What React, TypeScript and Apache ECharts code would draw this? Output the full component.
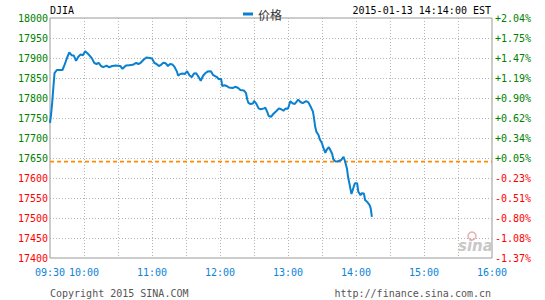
import React, { useEffect, useRef } from "react";
import * as echarts from "echarts";

// minutes after 09:30 open
const minutes = [
  0, 1, 2, 3, 4, 6, 9, 11, 13, 15, 17, 19, 21, 23, 25, 27, 29, 31, 33, 35, 37, 39, 41, 43, 45, 47, 50, 52, 55, 58,
  62, 64, 67, 70, 73, 76, 78, 80, 83, 85, 88, 90, 92, 94, 96, 98, 100, 102, 104, 106, 108, 110, 112, 113, 115, 117,
  119, 121, 123, 125, 127, 129, 131, 133, 135, 137, 139, 142, 144, 147, 149, 151, 152, 154, 156, 158, 161, 164, 166,
  168, 171, 173, 174, 175, 177, 179, 180, 182, 184, 186, 189, 190, 192, 193, 195, 197, 200, 202, 204, 206, 208, 210,
  212, 214, 216, 219, 221, 223, 226, 228, 230, 232, 233, 234, 235, 237, 238, 240, 241, 243, 244, 246, 247, 249, 250,
  252, 254, 257, 259, 260, 262, 263, 265, 266, 268, 269, 271, 272, 274, 275, 277, 278, 280, 282, 283, 284,
];
const prices = [
  17738, 17760, 17791, 17828, 17862, 17870, 17870, 17870, 17884, 17900, 17914, 17907, 17906, 17893, 17903, 17909,
  17907, 17917, 17912, 17906, 17899, 17888, 17885, 17888, 17880, 17877, 17881, 17877, 17880, 17881, 17880, 17873,
  17881, 17882, 17883, 17888, 17885, 17888, 17897, 17901, 17900, 17899, 17888, 17885, 17880, 17883, 17888, 17887,
  17880, 17885, 17884, 17877, 17866, 17856, 17860, 17861, 17860, 17867, 17857, 17852, 17861, 17862, 17853, 17843,
  17855, 17862, 17866, 17867, 17857, 17853, 17847, 17848, 17830, 17832, 17830, 17826, 17825, 17828, 17825, 17820,
  17819, 17812, 17797, 17788, 17785, 17786, 17793, 17786, 17774, 17772, 17774, 17776, 17763, 17755, 17753, 17760,
  17768, 17774, 17772, 17768, 17774, 17773, 17792, 17787, 17785, 17796, 17790, 17787, 17792, 17789, 17778, 17766,
  17749, 17728, 17716, 17707, 17697, 17687, 17677, 17663, 17670, 17677, 17672, 17660, 17647, 17641, 17642, 17645,
  17653, 17645, 17624, 17603, 17574, 17560, 17578, 17587, 17587, 17566, 17557, 17562, 17561, 17545, 17540, 17532,
  17524, 17503,
];
const prevClose = 17640.84;
const timeLabels = ["09:30", "10:00", "11:00", "12:00", "13:00", "14:00", "15:00", "16:00"];
const rightLabels = [
  "+2.04%", "+1.75%", "+1.47%", "+1.19%", "+0.90%", "+0.62%", "+0.34%", "+0.05%",
  "-0.23%", "-0.51%", "-0.80%", "-1.08%", "-1.37%",
];
const yMin = 17400;
const yMax = 18000;
const yStep = 50;

const MONO = "DejaVu Sans Mono";

function toHHMM(m: number): string {
  const t = 9 * 60 + 30 + m;
  const h = Math.floor(t / 60);
  const mm = t % 60;
  return String(h).padStart(2, "0") + ":" + String(mm).padStart(2, "0");
}

export default function App() {
  const ref = useRef<HTMLDivElement>(null);
  useEffect(() => {
    if (!ref.current) return;
    const chart = echarts.init(ref.current, null, { renderer: "svg" });
    const data = minutes.map((m, i) => [m, prices[i]]);
    const gridLine = { show: true, showMinLine: false, showMaxLine: false, lineStyle: { color: "#b4b4b4", type: [1, 2] as any, width: 1 } };
    chart.setOption({
      animation: false,
      backgroundColor: "#ffffff",
      grid: { left: 50, right: 53, top: 18, bottom: 42, show: true, borderColor: "#999999", borderWidth: 1, backgroundColor: "transparent" },
      legend: {
        left: 238,
        top: 3,
        icon: "rect",
        itemWidth: 10,
        itemHeight: 3,
        itemGap: 5,
        textStyle: { fontFamily: "Noto Sans CJK SC", fontSize: 12, color: "#333333" },
        data: ["价格"],
      },
      xAxis: {
        type: "value",
        min: 0,
        max: 390,
        interval: 30,
        axisLine: { show: false },
        axisTick: { show: false },
        splitLine: gridLine,
        axisLabel: {
          margin: 9,
          fontFamily: MONO,
          fontSize: 10,
          color: "#0b84d8",
          showMinLabel: true,
          showMaxLabel: true,
          formatter: (v: number) => {
            const s = toHHMM(v);
            return timeLabels.includes(s) ? s : "";
          },
        },
      },
      yAxis: [
        {
          type: "value",
          min: yMin,
          max: yMax,
          interval: yStep,
          position: "left",
          axisLine: { show: false },
          axisTick: { show: false },
          splitLine: gridLine,
          axisLabel: {
            margin: 2,
            fontFamily: MONO,
            fontSize: 10,
            formatter: (v: number) => String(v),
            color: (v: any) => (Number(v) >= prevClose ? "#008000" : "#ff0000"),
          },
        },
        {
          type: "value",
          min: yMin,
          max: yMax,
          interval: yStep,
          position: "right",
          axisLine: { show: false },
          axisTick: { show: false },
          splitLine: { show: false },
          axisLabel: {
            margin: 3,
            fontFamily: MONO,
            fontSize: 10,
            formatter: (v: number) => rightLabels[Math.round((yMax - v) / yStep)] ?? "",
            color: (v: any) => (Number(v) >= prevClose ? "#008000" : "#ff0000"),
          },
        },
      ],
      series: [
        {
          name: "价格",
          type: "line",
          data,
          showSymbol: false,
          symbol: "none",
          color: "#0a80d0",
          lineStyle: { width: 2, color: "#0a80d0" },
          z: 3,
        },
        {
          name: "prevClose",
          type: "line",
          data: [[0, prevClose], [390, prevClose]],
          showSymbol: false,
          symbol: "none",
          silent: true,
          color: "#ff8a00",
          lineStyle: { width: 1.6, color: "#ff8a00", type: [4, 3] as any },
          z: 2,
        },
      ],
      graphic: [
        { type: "text", left: 50, top: 5, style: { text: "DJIA", fontFamily: MONO, fontSize: 10, fill: "#000000" } },
        {
          type: "text",
          right: 54,
          top: 5,
          style: { text: "2015-01-13 14:14:00 EST", fontFamily: MONO, fontSize: 10, fill: "#000000" },
        },
        {
          type: "text",
          left: 50,
          top: 288,
          style: { text: "Copyright 2015 SINA.COM", fontFamily: MONO, fontSize: 10, fill: "#555555" },
        },
        {
          type: "text",
          right: 54,
          top: 288,
          style: { text: "http://finance.sina.com.cn", fontFamily: MONO, fontSize: 10, fill: "#555555" },
        },
        {
          type: "text",
          left: 458,
          top: 238,
          style: { text: "sina", fontFamily: "DejaVu Sans", fontStyle: "italic", fontWeight: "bold", fontSize: 15, fill: "#c8c8c8" },
        },
        {
          type: "circle",
          shape: { cx: 472, cy: 236, r: 4 },
          style: { fill: "none", stroke: "#e8b0b0", lineWidth: 1.5 },
        },
      ],
    });
    return () => chart.dispose();
  }, []);
  return <div ref={ref} style={{ position: "fixed", left: 0, top: 0, width: 545, height: 300 }} />;
}
